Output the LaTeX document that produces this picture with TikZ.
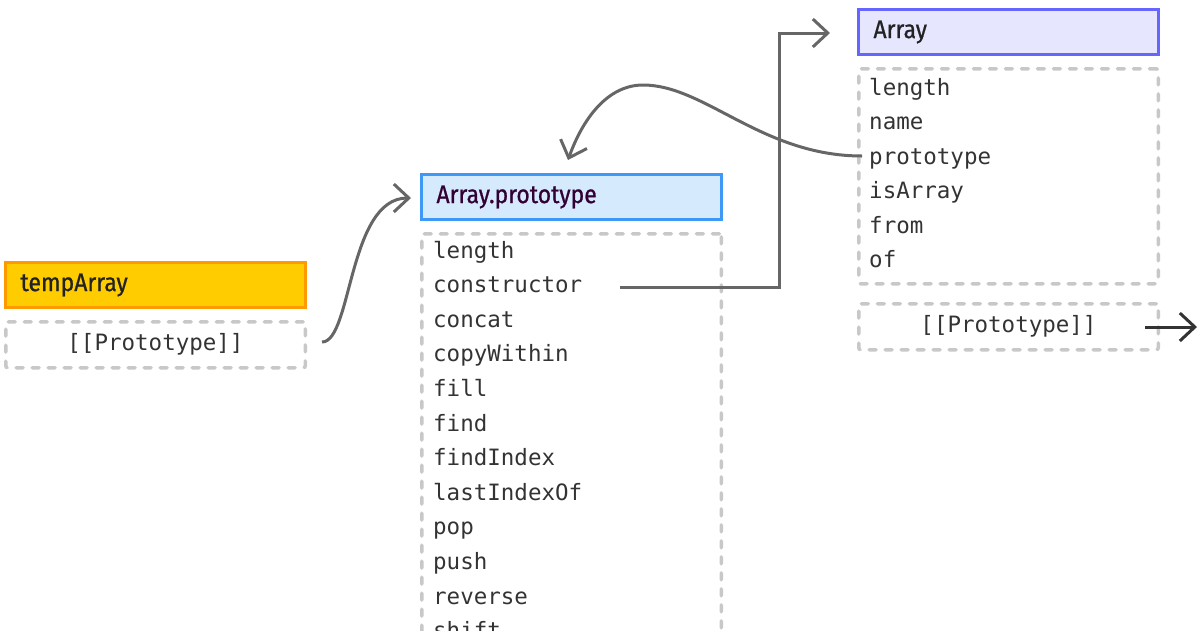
\documentclass[tikz,border=0pt]{standalone}
\usepackage{fontspec}
\newfontfamily\hdrfont{Fira Sans}[FakeBold=0.8,FakeStretch=0.9]
\newfontfamily\codefont{DejaVu Sans Mono}
\usetikzlibrary{arrows.meta,calc}
\definecolor{tmpfill}{HTML}{FFCC00}
\definecolor{tmpdraw}{HTML}{FF9900}
\definecolor{apfill}{HTML}{D6EAFE}
\definecolor{apdraw}{HTML}{3D99F5}
\definecolor{aptext}{HTML}{330033}
\definecolor{arfill}{HTML}{E6E6FF}
\definecolor{ardraw}{HTML}{6666FF}
\definecolor{hdrtext}{HTML}{222222}
\definecolor{dashgray}{HTML}{C8C8C8}
\definecolor{codegray}{HTML}{333333}
\definecolor{conngray}{HTML}{666666}
\definecolor{darkarrow}{HTML}{333333}
\begin{document}
\begin{tikzpicture}[x=1pt,y=-1pt,
  hdr/.style={draw, line width=3pt, rectangle, text width=270pt, inner xsep=15pt, inner ysep=0pt,
    minimum height=45pt, align=left, text=hdrtext, font=\hdrfont\fontsize{25.5}{25.5}\selectfont, anchor=north west},
  dbox/.style={draw=dashgray, line width=3.5pt, dash pattern=on 7pt off 9pt, line cap=round,
    rounded corners=2pt, rectangle, minimum width=299.5pt, inner sep=0pt, anchor=north west,
    text=codegray, font=\codefont\fontsize{22.5}{22.5}\selectfont},
  item/.style={font=\codefont\fontsize{22.5}{22.5}\selectfont, text=codegray, inner sep=0pt, anchor=base west},
  conn/.style={draw=conngray, line width=3pt, -{Straight Barb[length=15pt,width=28pt]}},
]
\useasboundingbox (0,0) rectangle (1200,630);
\clip (0,0) rectangle (1200,630);

% tempArray
\node[hdr, fill=tmpfill, draw=tmpdraw] (tmphdr) at (4,261) {tempArray};
\node[dbox, minimum height=46pt] (tmpproto) at (4,320) {[[Prototype]]};

% Array.prototype
\node[hdr, fill=apfill, draw=apdraw, text=aptext] (aphdr) at (420,173) {Array.prototype};
\node[dbox, minimum height=500pt] (apbody) at (420,232) {};
\foreach \t [count=\i from 0] in {length,constructor,concat,copyWithin,fill,find,findIndex,lastIndexOf,pop,push,reverse,shift}{
  \node[item] (ap\i) at (433,258+34.6*\i) {\t};
}

% Array
\node[hdr, fill=arfill, draw=ardraw] (arhdr) at (857,8) {Array};
\node[dbox, minimum height=215pt] (arbody) at (857,67) {};
\foreach \t [count=\i from 0] in {length,name,prototype,isArray,from,of}{
  \node[item] (ar\i) at (869,95+34.5*\i) {\t};
}
\node[dbox, minimum height=46pt] (arproto) at (857,302) {[[Prototype]]};

% connectors
\coordinate (tstart) at (322,342);
\draw[conn] (tstart) .. controls (352,342) and (348,198) .. ($(aphdr.west)+(-9,1)$);

\coordinate (cstart) at (620,287);
\coordinate (cbend) at (779,33);
\draw[conn] (cstart) -| (cbend) -- ($(arhdr.west)+(-27,1)$);

\coordinate (pstart) at (862,156);
\coordinate (ppeak) at (643,85);
\draw[conn] (pstart) .. controls (762,156) and (705,85) .. (ppeak)
  .. controls (608,85) and (583,118) .. ($(aphdr.north west)+(148,-13)$);

\coordinate (rstart) at (1145,327);
\coordinate (rend) at (1197,327);
\draw[conn, draw=darkarrow] (rstart) -- (rend);
\end{tikzpicture}
\end{document}
